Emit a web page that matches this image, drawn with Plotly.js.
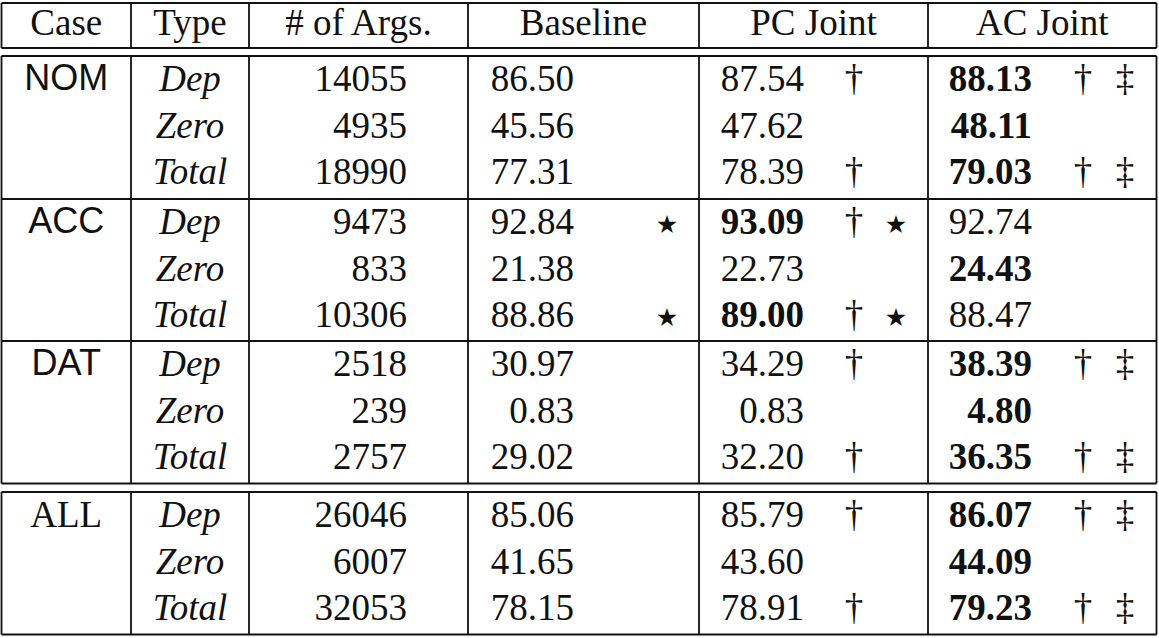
<!DOCTYPE html>
<html>
<head>
<meta charset="utf-8">
<script src="https://cdn.plot.ly/plotly-3.0.1.min.js"></script>
<style>
  html, body { margin: 0; padding: 0; background: #fff; }
</style>
</head>
<body>
<div id="resultTable" style="width:1159px;height:638px"></div>
<script>
// table content
const headers = ["Case", "Type", "# of Args.", "Baseline", "PC Joint", "AC Joint"];
const cases = ["NOM", "ACC", "DAT", "ALL"];
const types = ["Dep", "Zero", "Total"];

// one entry per row (4 cases x 3 types)
const numArgs = [14055, 4935, 18990, 9473, 833, 10306, 2518, 239, 2757, 26046, 6007, 32053];
const baseline = [86.5, 45.56, 77.31, 92.84, 21.38, 88.86, 30.97, 0.83, 29.02, 85.06, 41.65, 78.15];
const pcJoint = [87.54, 47.62, 78.39, 93.09, 22.73, 89.0, 34.29, 0.83, 32.2, 85.79, 43.6, 78.91];
const acJoint = [88.13, 48.11, 79.03, 92.74, 24.43, 88.47, 38.39, 4.8, 36.35, 86.07, 44.09, 79.23];

// significance marks (1 = shown)
const baseStar = [0, 0, 0, 1, 0, 1, 0, 0, 0, 0, 0, 0];
const pcDagger = [1, 0, 1, 1, 0, 1, 1, 0, 1, 1, 0, 1];
const pcStar = [0, 0, 0, 1, 0, 1, 0, 0, 0, 0, 0, 0];
const acDagger = [1, 0, 1, 0, 0, 0, 1, 0, 1, 1, 0, 1];
const acDdagger = [1, 0, 1, 0, 0, 0, 1, 0, 1, 1, 0, 1];

// geometry (pixels, y goes down)
const W = 1159, H = 638;
const colEdges = [1.5, 131, 249, 468, 699, 928, 1156.5];
const headTop = 3, headBot = 48;
const blockTops = [56, 199, 341, 492];
const blockH = 142.5;
const rowStep = 46.7;
const firstBase = 35; // baseline of first row below block top
const FS = 37;
const SERIF = "Liberation Serif, Times New Roman, serif";
const SANS = "Liberation Sans, Arial, sans-serif";
const INK = "#111";

// plotly puts the baseline of "middle" text 0.25*size below the point
function yAt(base, fs) { return base - 0.25 * (fs || FS); }

function rowBase(i) {
  let b = Math.floor(i / types.length);
  let r = i % types.length;
  return blockTops[b] + firstBase + r * rowStep;
}

function mid(c) { return (colEdges[c] + colEdges[c + 1]) / 2; }

let rows = numArgs.map((_, i) => i);
let rowY = rows.map((i) => yAt(rowBase(i)));

// which score is the best in each row -> bold
let best = rows.map((i) => Math.max(baseline[i], pcJoint[i], acJoint[i]));

function textTrace(xs, ys, txt, pos, font) {
  return {
    type: "scatter",
    mode: "text",
    x: xs,
    y: ys,
    text: txt,
    textposition: pos,
    textfont: Object.assign({ family: SERIF, size: FS, color: INK }, font || {}),
    hoverinfo: "skip",
    cliponaxis: false,
  };
}

let traces = [];

// header row
traces.push(textTrace(headers.map((_, c) => mid(c)), headers.map(() => yAt(headTop + 32)), headers, "middle center"));

// case labels (the original mixes a sans face for NOM/ACC/DAT)
cases.forEach((c, b) => {
  let sans = c !== "ALL";
  let fs = sans ? 36 : FS;
  traces.push(textTrace([mid(0)], [yAt(blockTops[b] + firstBase - (sans ? 1 : 0), fs)], [c], "middle center",
    { family: sans ? SANS : SERIF, size: fs }));
});

// type column
traces.push(textTrace(rows.map(() => mid(1)), rowY, rows.map((i) => types[i % types.length]), "middle center",
  { style: "italic" }));

// # of args, right aligned
traces.push(textTrace(rows.map(() => 407), rowY, numArgs.map(String), "middle left"));

// score columns: right edge of the numbers
let scoreCols = [
  { vals: baseline, right: 574 },
  { vals: pcJoint, right: 804 },
  { vals: acJoint, right: 1032 },
];
scoreCols.forEach((sc) => {
  let normal = rows.filter((i) => sc.vals[i] !== best[i]);
  let bold = rows.filter((i) => sc.vals[i] === best[i]);
  traces.push(textTrace(normal.map(() => sc.right), normal.map((i) => rowY[i]),
    normal.map((i) => sc.vals[i].toFixed(2)), "middle left"));
  traces.push(textTrace(bold.map(() => sc.right), bold.map((i) => rowY[i]),
    bold.map((i) => sc.vals[i].toFixed(2)), "middle left", { weight: "bold" }));
});

// marks
const starFont = { family: "DejaVu Sans", size: 25 };
let marks = [
  { flags: baseStar, x: 667, ch: "\u2605", font: starFont, lift: 1 },
  { flags: pcDagger, x: 854, ch: "\u2020" },
  { flags: pcStar, x: 896, ch: "\u2605", font: starFont, lift: 1 },
  { flags: acDagger, x: 1083, ch: "\u2020" },
  { flags: acDdagger, x: 1125, ch: "\u2021" },
];
marks.forEach((m) => {
  let on = rows.filter((i) => m.flags[i]);
  let fs = m.font ? m.font.size : FS;
  traces.push(textTrace(on.map(() => m.x), on.map((i) => yAt(rowBase(i) - (m.lift || 0), fs)),
    on.map(() => m.ch), "middle center", m.font));
});

// rules
let shapes = [];
function hline(y) {
  shapes.push({ type: "line", xref: "x", yref: "y", x0: colEdges[0], x1: colEdges[colEdges.length - 1], y0: y, y1: y,
    line: { color: INK, width: 1.8 } });
}
function vlines(y0, y1) {
  colEdges.forEach((x) => {
    shapes.push({ type: "line", xref: "x", yref: "y", x0: x, x1: x, y0: y0, y1: y1, line: { color: INK, width: 1.8 } });
  });
}
hline(headTop);
hline(headBot);
vlines(headTop, headBot);
// first three cases share one box, ALL gets its own
hline(blockTops[0]);
hline(blockTops[1]);
hline(blockTops[2]);
hline(blockTops[2] + blockH);
vlines(blockTops[0], blockTops[2] + blockH);
hline(blockTops[3]);
hline(blockTops[3] + blockH);
vlines(blockTops[3], blockTops[3] + blockH);

let layout = {
  width: W,
  height: H,
  margin: { l: 0, r: 0, t: 0, b: 0, pad: 0 },
  showlegend: false,
  paper_bgcolor: "#fff",
  plot_bgcolor: "#fff",
  xaxis: { range: [0, W], visible: false, fixedrange: true },
  yaxis: { range: [H, 0], visible: false, fixedrange: true },
  shapes: shapes,
};

Plotly.newPlot("resultTable", traces, layout, { displayModeBar: false, staticPlot: true });
</script>
</body>
</html>
